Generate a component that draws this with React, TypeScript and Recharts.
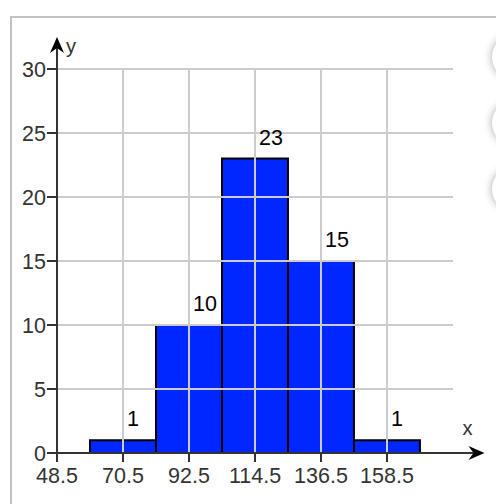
import { BarChart, Bar, XAxis, YAxis, LabelList, ReferenceLine } from 'recharts';

// histogram bins (midpoints) and their counts
const binMids = [70.5, 92.5, 114.5, 136.5, 158.5];
const counts = [1, 10, 23, 15, 1];
const binWidth = 22;

const xTicks = [48.5, 70.5, 92.5, 114.5, 136.5, 158.5];
const yTicks = [0, 5, 10, 15, 20, 25, 30];
const xDomain = [48.5, 180.5];
const yDomain = [0, 30];

const data = binMids.map((mid, i) => ({ mid, count: counts[i] }));

const W = 496;
const H = 504;
const margin = { top: 69, right: 43, bottom: 0, left: 0 };
const yAxisW = 57;
const xAxisH = 51;
const plotW = W - yAxisW - margin.right;
// a hair under the band so recharts doesn't fall back to 90% width
const barSize = (binWidth * plotW) / (xDomain[1] - xDomain[0]) - 0.05;

const font = 'Arial, "Liberation Sans", sans-serif';
const axisColor = '#333';
const gridColor = '#cccccc';

const Arrow = (props: any) => {
  const { x1, y1, x2, y2, label, lx, ly } = props;
  const dx = x2 - x1;
  const dy = y2 - y1;
  const len = Math.sqrt(dx * dx + dy * dy) || 1;
  const ux = dx / len;
  const uy = dy / len;
  const px = -uy;
  const py = ux;
  const back = 16;
  const notch = 11;
  const half = 7;
  const pts = [
    [x2, y2],
    [x2 - ux * back + px * half, y2 - uy * back + py * half],
    [x2 - ux * notch, y2 - uy * notch],
    [x2 - ux * back - px * half, y2 - uy * back - py * half],
  ]
    .map((p) => p.join(','))
    .join(' ');
  return (
    <g>
      <line x1={x1} y1={y1} x2={x2 - ux * notch} y2={y2 - uy * notch} stroke={axisColor} strokeWidth={2} />
      <polygon points={pts} fill="#000" />
      <text x={x2 + lx} y={y2 + ly} fontSize={20} fill={axisColor} fontFamily={font}>
        {label}
      </text>
    </g>
  );
};

const CountLabel = (props: any) => {
  const { x, y, width, value } = props;
  return (
    <text x={x + width / 2 + 4} y={y - 14} fontSize={21.5} fill="#000" fontFamily={font} textAnchor="start">
      {value}
    </text>
  );
};

const Button = ({ top }: { top: number }) => (
  <div
    style={{
      position: 'absolute',
      left: 492,
      top,
      width: 44,
      height: 44,
      borderRadius: '50%',
      background: '#fff',
      boxShadow: '0 0 8px rgba(0,0,0,0.35)',
    }}
  />
);

export default function App() {
  return (
    <div
      style={{
        position: 'absolute',
        left: 0,
        top: 0,
        width: W,
        height: H,
        overflow: 'hidden',
        background: '#fff',
      }}
    >
      <div
        style={{
          position: 'absolute',
          left: 10,
          top: 16,
          width: 600,
          height: 600,
          border: '2px solid #c2c2c2',
        }}
      />
      <Button top={35} />
      <Button top={101} />
      <Button top={167} />
      <div style={{ position: 'absolute', left: 0, top: 0 }}>
        <BarChart width={W} height={H} data={data} margin={margin}>
          <XAxis
            dataKey="mid"
            type="number"
            domain={xDomain}
            ticks={xTicks}
            height={xAxisH}
            axisLine={false}
            tickLine={{ stroke: axisColor, strokeWidth: 2 }}
            tickSize={9}
            tickMargin={6}
            tick={{ fill: axisColor, fontSize: 21.5, fontFamily: font }}
            interval={0}
            allowDataOverflow
          />
          <YAxis
            type="number"
            domain={yDomain}
            ticks={yTicks}
            width={yAxisW}
            axisLine={false}
            tickLine={{ stroke: axisColor, strokeWidth: 2 }}
            tickSize={10}
            tickMargin={1}
            tick={{ fill: axisColor, fontSize: 21.5, fontFamily: font }}
            interval={0}
            allowDataOverflow
          />
          <Bar
            dataKey="count"
            fill="#0027ff"
            stroke="#000"
            strokeWidth={2}
            barSize={barSize}
            isAnimationActive={false}
          >
            <LabelList dataKey="count" content={CountLabel} />
          </Bar>
          {/* grid drawn over the bars, as in the reference */}
          {yTicks.slice(1).map((t) => (
            <ReferenceLine key={`h${t}`} y={t} stroke={gridColor} strokeWidth={2} />
          ))}
          {xTicks.slice(1).map((t) => (
            <ReferenceLine key={`v${t}`} x={t} stroke={gridColor} strokeWidth={2} />
          ))}
          <ReferenceLine
            segment={[{ x: 48.5, y: 0 }, { x: 191, y: 0 }]}
            ifOverflow="visible"
            shape={(p: any) => <Arrow {...p} label="x" lx={-22} ly={-18} />}
          />
          <ReferenceLine
            segment={[{ x: 48.5, y: 0 }, { x: 48.5, y: 32.5 }]}
            ifOverflow="visible"
            shape={(p: any) => <Arrow {...p} label="y" lx={9} ly={16} />}
          />
        </BarChart>
      </div>
    </div>
  );
}
